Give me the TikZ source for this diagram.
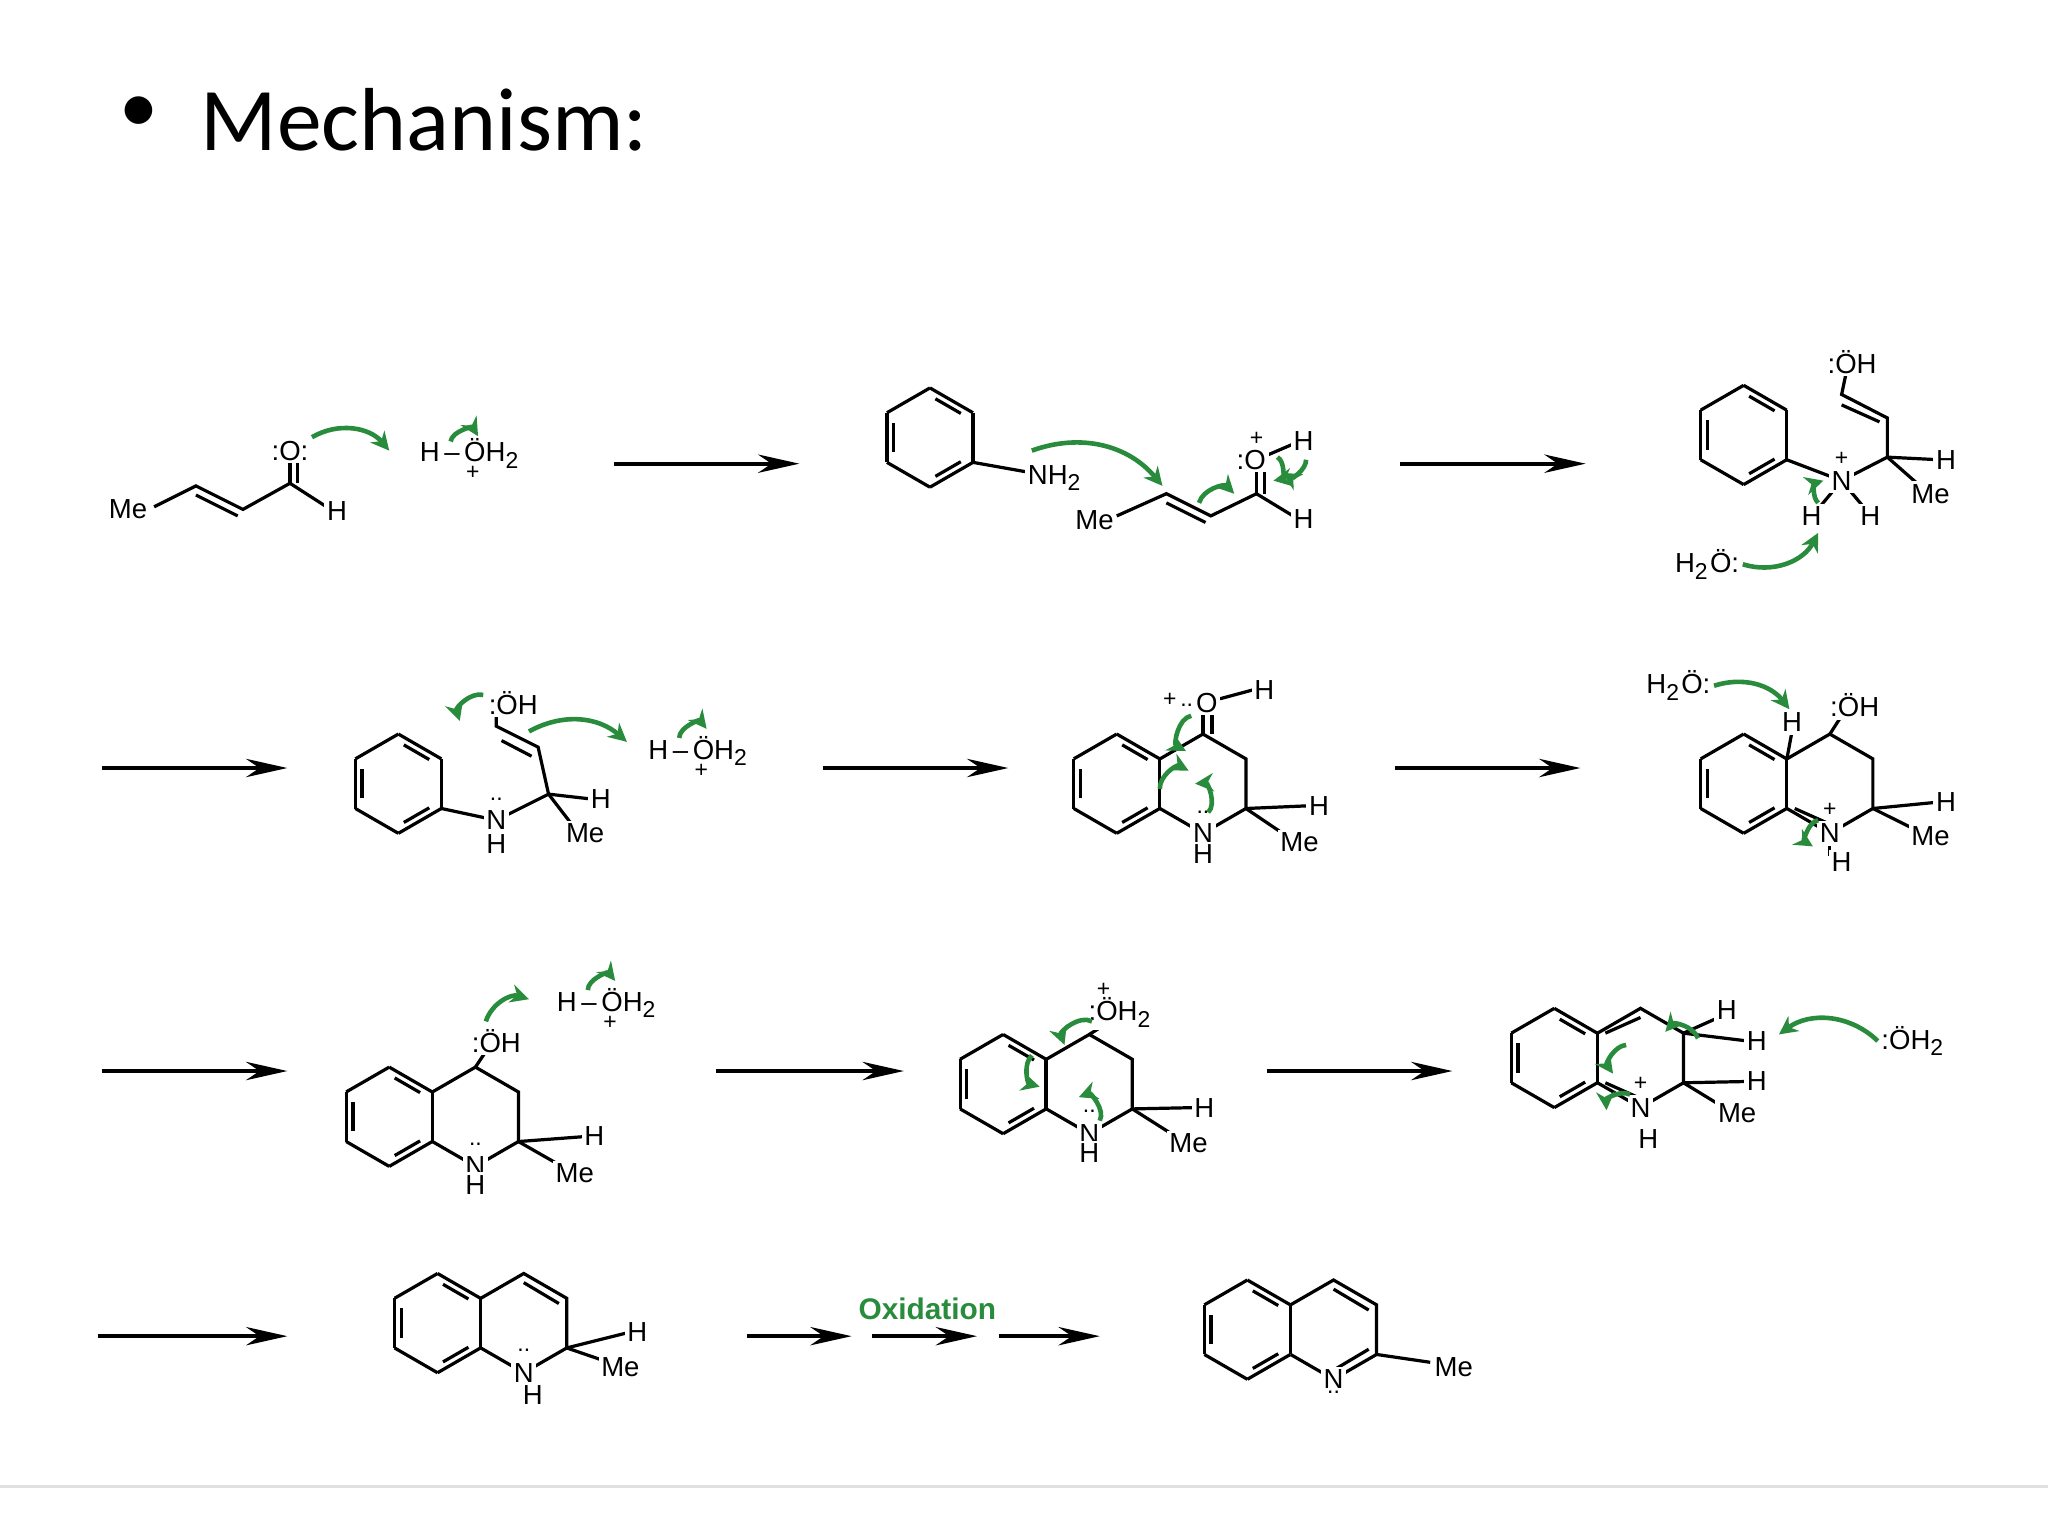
\documentclass[tikz,border=0pt]{standalone}
\usepackage{fontspec}
\setmainfont{Carlito}
\newfontfamily\chemf{Liberation Sans}
\usetikzlibrary{calc,arrows.meta}
\definecolor{grn}{RGB}{40,140,60}
\newcommand{\benz}[2]{%
 \foreach \k in {0,...,5}{\draw[bond] ($(#1,#2)+({30+60*\k}:38)$) -- ($(#1,#2)+({90+60*\k}:38)$);}
 \foreach \k in {0,2,4}{\draw[bond] ($(#1,#2)+({38+60*\k}:30)$) -- ($(#1,#2)+({82+60*\k}:30)$);}}
\newcommand{\ringB}[2]{%
 \coordinate (T) at ($(#1,#2)+(270:38)$); \coordinate (UR) at ($(#1,#2)+(330:38)$);
 \coordinate (LR) at ($(#1,#2)+(30:38)$); \coordinate (BO) at ($(#1,#2)+(90:38)$);
 \coordinate (LL) at ($(#1,#2)+(150:38)$); \coordinate (UL) at ($(#1,#2)+(210:38)$);}
\begin{document}
\begin{tikzpicture}[x=0.1mm,y=-0.1mm,
 bond/.style={line width=0.7pt},
 lbl/.style={font=\chemf\fontsize{6}{7}\selectfont, inner sep=0.6pt, fill=white},
 sm/.style={font=\chemf\fontsize{5}{5}\selectfont, inner sep=0pt},
 garr/.style={draw=grn, line width=1pt, -{Stealth[length=4pt,width=4pt]}},
 rxn/.style={line width=0.8pt, -{Stealth[length=9pt,width=4pt]}}]
\useasboundingbox (0,0) rectangle (1568,1176);
\fill[white] (0,0) rectangle (1568,1176);
\draw[black!12, line width=0.6pt] (0,1138) -- (1568,1138);
\node[font=\fontsize{17}{20}\selectfont] (bul) at (106,88) {\textbullet};
\node[anchor=west, font=\fontsize{19.5}{22}\selectfont, inner sep=0pt] (title) at (153,92) {Mechanism:};

% ---------- Row 1 ----------
\coordinate (a1) at (150,372); \coordinate (a2) at (186,390); \coordinate (a3) at (222,370);
\coordinate (aO) at (222,345);
\draw[bond] (118,388) -- (a1) -- (a2) -- (a3) -- (250,388);
\draw[bond] ($(a1)+(0,7)$) -- ($(a2)+(-4,5)$);
\draw[bond] (a3) -- (aO); \draw[bond] ($(a3)+(6,0)$) -- ($(aO)+(6,0)$);
\node[lbl] (me1) at (98,390) {Me};
\node[lbl] (h1) at (258,391) {H};
\node[lbl] (o1) at (222,345) {:O:};
\node[lbl] (hoh1) at (360,347) {H\,–\,\"{O}H\textsubscript{2}};
\node[sm] (p1) at (362,362) {+};
\draw[garr] (o1.north east) to[bend left=40] (298,345);
\draw[garr] (345,338) to[bend left=70] (366,334);
\draw[rxn] (470,355) -- (612,355);

\benz{712}{335}
\coordinate (b1) at (893,378); \coordinate (b2) at (927,395); \coordinate (b3) at (962,378); \coordinate (bO) at (962,352);
\draw[bond] (745,354) -- (790,362);
\draw[bond] (855,395) -- (b1) -- (b2) -- (b3) -- (990,395);
\draw[bond] ($(b1)+(0,7)$) -- ($(b2)+(-4,5)$);
\draw[bond] (b3) -- (bO); \draw[bond] ($(b3)+(6,0)$) -- ($(bO)+(6,0)$);
\draw[bond] (bO) -- (990,340);
\node[lbl] (nh2) at (808,366) {NH\textsubscript{2}};
\node[lbl] (me2) at (838,398) {Me};
\node[lbl] (h2) at (998,397) {H};
\node[lbl] (o2) at (958,352) {:O};
\node[sm] at (962,336) {+};
\node[lbl] (h2b) at (998,338) {H};
\draw[garr] (790,345) to[bend left=35] (890,372);
\draw[garr] (918,385) to[bend left=60] (945,378);
\draw[garr] (978,350) to[bend left=70] (975,368);
\draw[garr] (1000,352) to[bend left=60] (982,362);
\draw[rxn] (1072,355) -- (1214,355);

\benz{1335}{333}
\coordinate (cN) at (1410,368); \coordinate (c1) at (1445,350); \coordinate (c2) at (1445,320);
\coordinate (c3) at (1410,302); \coordinate (cO) at (1415,278);
\draw[bond] (1368,352) -- (cN) -- (c1) -- (c2) -- (c3) -- (cO);
\draw[bond] ($(c2)+(-6,3)$) -- ($(c3)+(0,8)$);
\draw[bond] (c1) -- (1485,352); \draw[bond] (c1) -- (1470,372);
\draw[bond] (cN) -- (1390,392); \draw[bond] (cN) -- (1430,392);
\node[lbl] (n3) at (cN) {N};
\node[sm] at (1410,351) {+};
\node[lbl] (o3) at (1418,277) {:\"{O}H};
\node[lbl] (h3a) at (1490,352) {H};
\node[lbl] (me3) at (1478,378) {Me};
\node[lbl] (h3b) at (1387,395) {H};
\node[lbl] (h3c) at (1432,395) {H};
\node[lbl] (w3) at (1307,432) {H\textsubscript{2}\"{O}:};
\draw[garr] (w3.east) to[bend right=40] (1392,408);
\draw[garr] (1392,385) to[bend left=60] (1396,368);

% ---------- Row 2 ----------
\draw[rxn] (78,588) -- (220,588);
\benz{305}{600}
\coordinate (dN) at (380,628); \coordinate (d1) at (420,608); \coordinate (d2) at (412,572);
\coordinate (d3) at (380,556); \coordinate (dO) at (380,540);
\draw[bond] (338,619) -- (dN) -- (d1) -- (d2) -- (d3) -- (dO);
\draw[bond] (407,579) -- (384,567);
\draw[bond] (d1) -- (455,612); \draw[bond] (d1) -- (440,634);
\node[lbl] (n4) at (dN) {N};
\node[sm] at (380,612) {..};
\node[lbl] (h4) at (380,646) {H};
\node[lbl] (h4b) at (460,612) {H};
\node[lbl] (me4) at (448,638) {Me};
\node[lbl] (o4) at (393,538) {:\"{O}H};
\node[lbl] (hoh4) at (535,575) {H\,–\,\"{O}H\textsubscript{2}};
\node[sm] at (537,590) {+};
\draw[garr] (370,532) to[bend right=60] (352,552);
\draw[garr] (405,560) to[bend left=35] (480,568);
\draw[garr] (520,565) to[bend left=70] (541,558);
\draw[rxn] (630,588) -- (772,588);

\benz{855}{600}
\ringB{921}{600}
\draw[bond] (UL) -- (T) -- (UR) -- (LR) -- (BO) -- (LL);
\draw[bond] (T) -- (921,540); \draw[bond] ($(T)+(7,0)$) -- (928,540);
\draw[bond] (LR) -- (1000,617); \draw[bond] (LR) -- (985,640);
\draw[bond] (934,535) -- (960,528);
\node[lbl] (n5) at (BO) {N};
\node[sm] at (921,622) {..};
\node[lbl] (h5) at (921,654) {H};
\node[lbl] (o5) at (924,538) {O};
\node[sm] (p5) at (902,536) {+\,..};
\node[lbl] (h5b) at (968,528) {H};
\node[lbl] (h5c) at (1010,617) {H};
\node[lbl] (me5) at (995,645) {Me};
\draw[garr] (912,548) to[bend right=70] (908,575);
\draw[garr] (888,604) to[bend left=60] (910,590);
\draw[garr] (925,622) to[bend right=70] (915,600);
\draw[rxn] (1068,588) -- (1210,588);

\benz{1335}{600}
\ringB{1401}{600}
\draw[bond] (UL) -- (T) -- (UR) -- (LR) -- (BO) -- (LL);
\draw[bond] ($(LL)+(6,0)$) -- ($(BO)+(0,-7)$);
\draw[bond] (T) -- (1410,548);
\draw[bond] (UL) -- (1372,560);
\draw[bond] (LR) -- (1485,614); \draw[bond] (LR) -- (1468,636);
\draw[bond] (BO) -- (1401,655);
\node[lbl] (n6) at (BO) {N};
\node[sm] at (1401,620) {+};
\node[lbl] (h6) at (1410,660) {H};
\node[lbl] (h6b) at (1372,553) {H};
\node[lbl] (o6) at (1420,540) {:\"{O}H};
\node[lbl] (h6c) at (1490,614) {H};
\node[lbl] (me6) at (1478,640) {Me};
\node[lbl] (w6) at (1285,525) {H\textsubscript{2}\"{O}:};
\draw[garr] (w6.east) to[bend left=35] (1370,543);
\draw[garr] (1392,628) to[bend right=70] (1388,648);

% ---------- Row 3 ----------
\draw[rxn] (78,820) -- (220,820);
\benz{298}{855}
\ringB{364}{855}
\draw[bond] (UL) -- (T) -- (UR) -- (LR) -- (BO) -- (LL);
\draw[bond] (T) -- (372,805);
\draw[bond] (LR) -- (450,870); \draw[bond] (LR) -- (432,894);
\node[lbl] (n7) at (BO) {N};
\node[sm] at (364,876) {..};
\node[lbl] (h7) at (364,907) {H};
\node[lbl] (o7) at (380,797) {:\"{O}H};
\node[lbl] (h7b) at (455,870) {H};
\node[lbl] (me7) at (440,898) {Me};
\node[lbl] (hoh7) at (465,768) {H\,–\,\"{O}H\textsubscript{2}};
\node[sm] at (467,783) {+};
\draw[garr] (372,782) to[bend left=45] (405,765);
\draw[garr] (450,758) to[bend left=70] (471,751);
\draw[rxn] (548,820) -- (692,820);

\benz{768}{830}
\ringB{834}{830}
\draw[bond] (UL) -- (T) -- (UR) -- (LR) -- (BO) -- (LL);
\draw[bond] (T) -- (845,785);
\draw[bond] (LR) -- (915,848); \draw[bond] (LR) -- (900,870);
\node[lbl] (n8) at (BO) {N};
\node[sm] at (834,851) {..};
\node[lbl] (h8) at (834,883) {H};
\node[lbl] (o8) at (858,775) {:\"{O}H\textsubscript{2}};
\node[sm] at (845,758) {+};
\node[lbl] (h8b) at (922,848) {H};
\node[lbl] (me8) at (910,875) {Me};
\draw[garr] (836,782) to[bend right=70] (815,800);
\draw[garr] (790,808) to[bend right=60] (796,832);
\draw[garr] (842,858) to[bend right=70] (826,840);
\draw[rxn] (970,820) -- (1112,820);

\benz{1190}{810}
\ringB{1256}{810}
\draw[bond] (UL) -- (T) -- (UR) -- (LR) -- (BO) -- (LL);
\draw[bond] ($(UL)+(6,0)$) -- ($(T)+(0,7)$);
\draw[bond] ($(LL)+(6,0)$) -- ($(BO)+(0,-7)$);
\draw[bond] (UR) -- (1318,778); \draw[bond] (UR) -- (1338,797);
\draw[bond] (LR) -- (1338,828); \draw[bond] (LR) -- (1320,848);
\node[lbl] (n9) at (BO) {N};
\node[sm] at (1256,830) {+};
\node[lbl] (h9) at (1262,872) {H};
\node[lbl] (h9a) at (1322,773) {H};
\node[lbl] (h9b) at (1345,797) {H};
\node[lbl] (h9c) at (1345,828) {H};
\node[lbl] (me9) at (1330,852) {Me};
\node[lbl] (w9) at (1465,797) {:\"{O}H\textsubscript{2}};
\draw[garr] (w9.west) to[bend right=40] (1362,792);
\draw[garr] (1300,795) to[bend right=60] (1275,790);
\draw[garr] (1245,800) to[bend right=60] (1235,822);
\draw[garr] (1248,838) to[bend right=60] (1230,850);

% ---------- Row 4 ----------
\draw[rxn] (75,1023) -- (220,1023);
\benz{335}{1013}
\ringB{401}{1013}
\draw[bond] (UL) -- (T) -- (UR) -- (LR) -- (BO) -- (LL);
\draw[bond] ($(T)+(0,7)$) -- ($(UR)+(-6,4)$);
\draw[bond] (LR) -- (482,1020); \draw[bond] (LR) -- (466,1043);
\node[lbl] (n10) at (BO) {N};
\node[sm] at (401,1034) {..};
\node[lbl] (h10) at (408,1068) {H};
\node[lbl] (h10b) at (488,1020) {H};
\node[lbl] (me10) at (475,1047) {Me};
\draw[rxn] (572,1023) -- (652,1023);
\draw[rxn] (668,1023) -- (748,1023);
\draw[rxn] (765,1023) -- (842,1023);
\node[font=\chemf\bfseries\fontsize{6.5}{7}\selectfont, text=grn] (ox) at (710,1002) {Oxidation};

\benz{955}{1018}
\ringB{1021}{1018}
\draw[bond] (UL) -- (T) -- (UR) -- (LR) -- (BO) -- (LL);
\draw[bond] ($(T)+(0,7)$) -- ($(UR)+(-6,4)$);
\draw[bond] ($(BO)+(0,-7)$) -- ($(LR)+(-6,-4)$);
\draw[bond] (LR) -- (1095,1043);
\node[lbl] (n11) at (BO) {N};
\node[sm] at (1021,1066) {..};
\node[lbl] (me11) at (1113,1047) {Me};
\end{tikzpicture}
\end{document}
